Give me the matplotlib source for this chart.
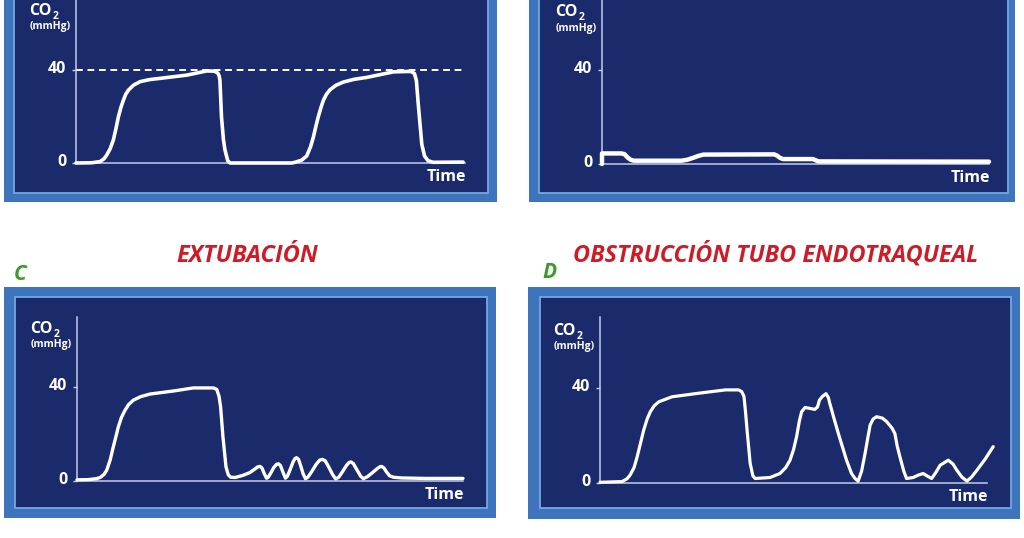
import matplotlib
matplotlib.use("Agg")
import matplotlib.pyplot as plt
from matplotlib.patches import Rectangle
from matplotlib.transforms import ScaledTranslation

W, H = 1024, 538

# capnography traces: (time, CO2 in mmHg)
trace_a = [(0, 0), (0.40, 0.1), (0.62, 0.6), (0.72, 1.8), (0.79, 3.4), (0.88, 6.2), (0.96, 9.9),
           (1.03, 15), (1.09, 19.9), (1.16, 24.2), (1.22, 27.1), (1.28, 29.6), (1.35, 31.4),
           (1.48, 33.5), (1.65, 35), (1.90, 35.9), (2.16, 36.4), (2.85, 37.8), (3.36, 39.6),
           (3.55, 39.5), (3.64, 38.8), (3.68, 37.5), (3.70, 35.7), (3.74, 19.9), (3.79, 10),
           (3.83, 5.6), (3.90, 1.0), (3.96, 0), (5.55, 0), (5.63, 0.3), (5.80, 1.2), (5.93, 3.0),
           (6.03, 7), (6.10, 11), (6.17, 16), (6.23, 20), (6.30, 24), (6.36, 27), (6.44, 29.6),
           (6.53, 31.5), (6.68, 33.4), (6.87, 34.8), (7.15, 36), (7.47, 36.8), (8.16, 39.2),
           (8.60, 39.4), (8.70, 38.5), (8.75, 35.5), (8.80, 25), (8.89, 8), (8.96, 3.0),
           (9.05, 1.0), (9.18, 0.3), (9.95, 0.4)]

trace_b = [(0, 0), (0, 4.5), (0.50, 4.5), (0.58, 4.2), (0.66, 2.8), (0.74, 1.8), (0.82, 1.4),
           (2.05, 1.4), (2.20, 1.8), (2.35, 2.6), (2.50, 3.5), (2.62, 4.0), (4.45, 4.1),
           (4.52, 3.6), (4.60, 2.6), (4.68, 2.1), (5.45, 2.1), (5.52, 1.6), (5.60, 1.1),
           (10.0, 1.0)]

trace_c = [(0, 0.5), (0.30, 0.6), (0.50, 1.0), (0.60, 1.5), (0.70, 2.8), (0.77, 4.6), (0.86, 9),
           (0.94, 14.5), (1.01, 19), (1.07, 23), (1.15, 27), (1.24, 30), (1.34, 32.6),
           (1.46, 34.4), (1.65, 35.9), (1.89, 37), (2.50, 38.3), (3.01, 39.6), (3.53, 39.6),
           (3.62, 39.0), (3.68, 36), (3.72, 31.6), (3.78, 19), (3.86, 6), (3.92, 2.6),
           (3.98, 1.6), (4.10, 1.5), (4.30, 2.4), (4.48, 3.6), (4.60, 5.0), (4.68, 6.0),
           (4.74, 6.2), (4.79, 5.6), (4.85, 3.2), (4.91, 1.2), (4.95, 1.5), (5.02, 3.4),
           (5.10, 5.8), (5.17, 7.1), (5.22, 7.3), (5.27, 6.6), (5.33, 4.0), (5.40, 1.2),
           (5.45, 2.0), (5.52, 4.8), (5.60, 8.2), (5.65, 9.6), (5.69, 9.9), (5.74, 9.2),
           (5.80, 6.2), (5.86, 3.0), (5.92, 1.0), (5.98, 1.6), (6.08, 4.0), (6.20, 7.2),
           (6.29, 8.9), (6.36, 9.2), (6.43, 8.6), (6.52, 6.0), (6.62, 2.8), (6.70, 0.9),
           (6.78, 1.6), (6.88, 4.0), (6.98, 6.6), (7.05, 7.9), (7.10, 8.1), (7.16, 7.4),
           (7.25, 4.8), (7.35, 2.0), (7.42, 1.0), (7.52, 1.8), (7.65, 3.5), (7.78, 5.3),
           (7.85, 6.1), (7.89, 6.2), (7.95, 5.6), (8.02, 3.8), (8.10, 2.2), (8.20, 1.6),
           (8.40, 1.3), (9.00, 1.1), (10.0, 1.1)]

trace_d = [(0, 0.3), (0.57, 0.6), (0.70, 1.8), (0.78, 3.4), (0.88, 6.5), (0.96, 11), (1.05, 17),
           (1.13, 22.3), (1.22, 27), (1.30, 30), (1.40, 32.5), (1.52, 34.2), (1.86, 36.3),
           (2.55, 37.8), (3.24, 39.2), (3.58, 39.2), (3.66, 38.5), (3.72, 36.5), (3.76, 30),
           (3.80, 22.3), (3.88, 8.3), (3.95, 3.0), (4.01, 1.9), (4.39, 2.3), (4.65, 4),
           (4.80, 6.5), (4.91, 9.6), (5.00, 14), (5.08, 19.5), (5.15, 26), (5.21, 30),
           (5.30, 31.8), (5.55, 31), (5.62, 32), (5.67, 34.9), (5.75, 36.5), (5.84, 37.6),
           (5.90, 36), (5.94, 33.4), (6.05, 27), (6.16, 20.8), (6.37, 9.6), (6.50, 4),
           (6.59, 1.9), (6.67, 0.8), (6.76, 5), (6.85, 12.5), (6.92, 19), (6.98, 24.4),
           (7.06, 27), (7.15, 27.9), (7.30, 27.3), (7.41, 25.8), (7.55, 23), (7.62, 20.8),
           (7.68, 15.5), (7.75, 11), (7.85, 5), (7.92, 1.9), (8.09, 2.3), (8.22, 3.3),
           (8.35, 4), (8.45, 3), (8.57, 1.9), (8.68, 4.5), (8.79, 7.5), (9.00, 9.6),
           (9.12, 8), (9.22, 5.4), (9.35, 2.5), (9.48, 0.8), (9.60, 2.5), (9.74, 5.4),
           (9.95, 10), (10.16, 15.3)]

title_c = "EXTUBACIÓN"
title_d = "OBSTRUCCIÓN TUBO ENDOTRAQUEAL"
y_ticks = [0, 40]
x_max = 10
y_max = 70
ref_level = 40
ref_end = 9.95

NAVY = "#1a2a6b"
BAND = "#3d74bb"
EDGE = "#72a8e2"
AXIS = "#c3cdf0"
RED = "#cf1b25"
GREEN = "#3d9b2b"
FONT = "Open Sans"

fig = plt.figure(figsize=(W / 100, H / 100), dpi=100)
fig.patch.set_facecolor("white")
bg = fig.add_axes([0, 0, 1, 1])
bg.set_xlim(0, W)
bg.set_ylim(H, 0)
bg.axis("off")


def frame(outer, inner):
    x0, y0, x1, y1 = outer
    bg.add_patch(Rectangle((x0, y0), x1 - x0, y1 - y0, facecolor=BAND, lw=0))
    x0, y0, x1, y1 = inner
    bg.add_patch(Rectangle((x0, y0), x1 - x0, y1 - y0, facecolor=NAVY, edgecolor=EDGE, lw=1.3))


def panel(trace, ox, oy, xe, s40, lw, dashed=False):
    h = y_max * s40 / 40
    ax = fig.add_axes([ox / W, 1 - oy / H, (xe - ox) / W, h / H])
    ax.set_facecolor("none")
    ax.set_xlim(0, x_max)
    ax.set_ylim(0, y_max)
    t = [p[0] for p in trace]
    v = [p[1] for p in trace]
    ax.plot(t, v, color="white", lw=lw, solid_joinstyle="round",
            solid_capstyle="round", clip_on=False, zorder=3)
    if dashed:
        ax.plot([0, ref_end], [ref_level, ref_level], color="white", lw=1.4,
                ls=(0, (3.5, 2.4)), zorder=2)
    for s in ["top", "right"]:
        ax.spines[s].set_visible(False)
    for s in ["left", "bottom"]:
        ax.spines[s].set_color(AXIS)
        ax.spines[s].set_linewidth(1.1)
    ax.set_xticks([])
    ax.set_yticks(y_ticks)
    ax.tick_params(axis="y", length=3, width=1, color=AXIS, labelcolor="white",
                   labelsize=11.5, pad=4)
    up = ScaledTranslation(0, 3 / 100, fig.dpi_scale_trans)
    for lab in ax.get_yticklabels():
        lab.set_fontfamily(FONT)
        lab.set_fontweight("bold")
        lab.set_transform(lab.get_transform() + up)
    bg.text(xe + 1, oy + 14, "Time", color="white", ha="right", va="center",
            fontsize=11.5, fontfamily=FONT, fontweight="bold")
    co = bg.text(ox - 47, oy - 152, "CO", color="white", ha="left", va="center",
                 fontsize=11.5, fontfamily=FONT, fontweight="bold")
    bg.annotate("2", xy=(1, 0.15), xycoords=co, xytext=(0.6, 0), textcoords="offset points",
                color="white", ha="left", va="center", fontsize=7.5, fontfamily=FONT,
                fontweight="bold")
    bg.text(ox - 26, oy - 136, "(mmHg)", color="white", ha="center", va="center",
            fontsize=7.5, fontfamily=FONT, fontweight="bold")
    return ax


# frames (pixel boxes: outer band, inner navy)
frame((4, -20, 497, 202), (14, -10, 488, 193))
frame((529, -20, 1015, 202), (539, -10, 1008, 193))
frame((4, 287, 496, 518), (15, 297, 487, 508))
frame((528, 287, 1020, 519), (540, 297, 1011, 508))

panel(trace_a, 76, 163, 465, 93, 2.6, dashed=True)
panel(trace_b, 602, 164, 989, 94, 3.2)
panel(trace_c, 77, 481, 463, 94, 2.4)
panel(trace_d, 600, 483, 987, 95, 2.3)

bg.text(247, 256, title_c, color=RED, ha="center", va="center", fontsize=17,
        fontfamily=FONT, fontweight="bold", style="italic")
bg.text(776, 255, title_d, color=RED, ha="center", va="center", fontsize=16.8,
        fontfamily=FONT, fontweight="bold", style="italic")
bg.text(20, 274, "C", color=GREEN, ha="center", va="center", fontsize=15,
        fontfamily=FONT, fontweight="bold", style="italic")
bg.text(550, 273, "D", color=GREEN, ha="center", va="center", fontsize=15,
        fontfamily=FONT, fontweight="bold", style="italic")

fig.savefig("out.png", dpi=100)
